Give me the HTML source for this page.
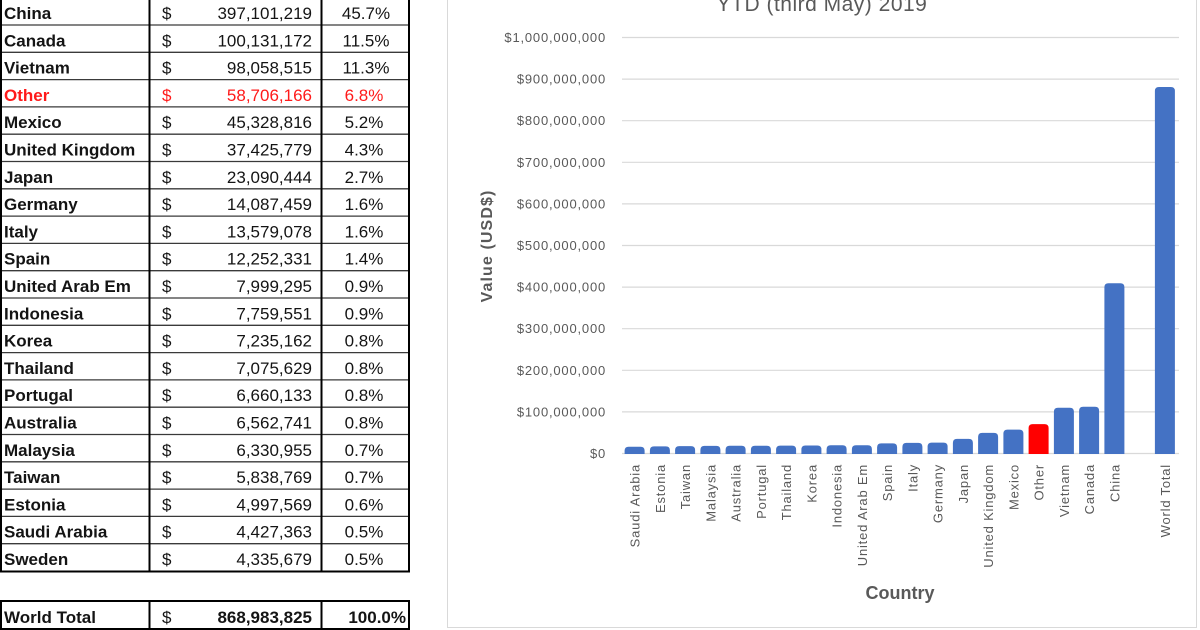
<!DOCTYPE html>
<html><head><meta charset="utf-8"><style>
html,body{margin:0;padding:0;background:#fff;}
svg{display:block;}
</style></head><body>
<svg width="1200" height="630" viewBox="0 0 1200 630" xmlns="http://www.w3.org/2000/svg">
<rect width="1200" height="630" fill="#fff"/>
<!-- TABLE -->
<g stroke="#3a3a3a" stroke-width="1.3">
<line x1="1" x2="409" y1="25" y2="25"/><line x1="1" x2="409" y1="52.3" y2="52.3"/><line x1="1" x2="409" y1="79.6" y2="79.6"/><line x1="1" x2="409" y1="106.9" y2="106.9"/><line x1="1" x2="409" y1="134.2" y2="134.2"/><line x1="1" x2="409" y1="161.5" y2="161.5"/><line x1="1" x2="409" y1="188.8" y2="188.8"/><line x1="1" x2="409" y1="216.1" y2="216.1"/><line x1="1" x2="409" y1="243.4" y2="243.4"/><line x1="1" x2="409" y1="270.7" y2="270.7"/><line x1="1" x2="409" y1="298" y2="298"/><line x1="1" x2="409" y1="325.3" y2="325.3"/><line x1="1" x2="409" y1="352.6" y2="352.6"/><line x1="1" x2="409" y1="379.9" y2="379.9"/><line x1="1" x2="409" y1="407.2" y2="407.2"/><line x1="1" x2="409" y1="434.5" y2="434.5"/><line x1="1" x2="409" y1="461.8" y2="461.8"/><line x1="1" x2="409" y1="489.1" y2="489.1"/><line x1="1" x2="409" y1="516.4" y2="516.4"/><line x1="1" x2="409" y1="543.7" y2="543.7"/>
</g>
<g stroke="#000" stroke-width="2" fill="none">
<line x1="1" x2="1" y1="-2" y2="572"/><line x1="149.5" x2="149.5" y1="-2" y2="572"/><line x1="321.5" x2="321.5" y1="-2" y2="572"/><line x1="409" x2="409" y1="-2" y2="572"/>
<line x1="0" x2="410" y1="571.5" y2="571.5"/>
<rect x="1" y="601" width="408" height="28"/>
<line x1="149.5" x2="149.5" y1="601" y2="629"/><line x1="321.5" x2="321.5" y1="601" y2="629"/>
</g>
<g font-family="Liberation Sans, sans-serif" font-size="17" fill="#141414">
<g font-weight="bold">
<text x="4" y="19">China</text><text x="4" y="46.3">Canada</text><text x="4" y="73.6">Vietnam</text><text x="4" y="100.9" fill="#ff1a1a" font-weight="normal" style="font-weight:bold">Other</text><text x="4" y="128.2">Mexico</text><text x="4" y="155.5">United Kingdom</text><text x="4" y="182.8">Japan</text><text x="4" y="210.1">Germany</text><text x="4" y="237.4">Italy</text><text x="4" y="264.7">Spain</text><text x="4" y="292">United Arab Em</text><text x="4" y="319.3">Indonesia</text><text x="4" y="346.6">Korea</text><text x="4" y="373.9">Thailand</text><text x="4" y="401.2">Portugal</text><text x="4" y="428.5">Australia</text><text x="4" y="455.8">Malaysia</text><text x="4" y="483.1">Taiwan</text><text x="4" y="510.4">Estonia</text><text x="4" y="537.7">Saudi Arabia</text><text x="4" y="565">Sweden</text>
<text x="4" y="623">World Total</text>
</g>
<g>
<text x="162" y="19">$</text><text x="162" y="46.3">$</text><text x="162" y="73.6">$</text><text x="162" y="100.9" fill="#ff1a1a">$</text><text x="162" y="128.2">$</text><text x="162" y="155.5">$</text><text x="162" y="182.8">$</text><text x="162" y="210.1">$</text><text x="162" y="237.4">$</text><text x="162" y="264.7">$</text><text x="162" y="292">$</text><text x="162" y="319.3">$</text><text x="162" y="346.6">$</text><text x="162" y="373.9">$</text><text x="162" y="401.2">$</text><text x="162" y="428.5">$</text><text x="162" y="455.8">$</text><text x="162" y="483.1">$</text><text x="162" y="510.4">$</text><text x="162" y="537.7">$</text><text x="162" y="565">$</text>
<text x="162" y="623">$</text>
</g>
<g text-anchor="end">
<text x="312" y="19">397,101,219</text><text x="312" y="46.3">100,131,172</text><text x="312" y="73.6">98,058,515</text><text x="312" y="100.9" fill="#ff1a1a">58,706,166</text><text x="312" y="128.2">45,328,816</text><text x="312" y="155.5">37,425,779</text><text x="312" y="182.8">23,090,444</text><text x="312" y="210.1">14,087,459</text><text x="312" y="237.4">13,579,078</text><text x="312" y="264.7">12,252,331</text><text x="312" y="292">7,999,295</text><text x="312" y="319.3">7,759,551</text><text x="312" y="346.6">7,235,162</text><text x="312" y="373.9">7,075,629</text><text x="312" y="401.2">6,660,133</text><text x="312" y="428.5">6,562,741</text><text x="312" y="455.8">6,330,955</text><text x="312" y="483.1">5,838,769</text><text x="312" y="510.4">4,997,569</text><text x="312" y="537.7">4,427,363</text><text x="312" y="565">4,335,679</text>
<text x="312" y="623" font-weight="bold">868,983,825</text>
<text x="406" y="623" font-weight="bold">100.0%</text>
</g>
<g text-anchor="middle">
<text x="366" y="19">45.7%</text><text x="366" y="46.3">11.5%</text><text x="366" y="73.6">11.3%</text><text x="364" y="100.9" fill="#ff1a1a">6.8%</text><text x="364" y="128.2">5.2%</text><text x="364" y="155.5">4.3%</text><text x="364" y="182.8">2.7%</text><text x="364" y="210.1">1.6%</text><text x="364" y="237.4">1.6%</text><text x="364" y="264.7">1.4%</text><text x="364" y="292">0.9%</text><text x="364" y="319.3">0.9%</text><text x="364" y="346.6">0.8%</text><text x="364" y="373.9">0.8%</text><text x="364" y="401.2">0.8%</text><text x="364" y="428.5">0.8%</text><text x="364" y="455.8">0.7%</text><text x="364" y="483.1">0.7%</text><text x="364" y="510.4">0.6%</text><text x="364" y="537.7">0.5%</text><text x="364" y="565">0.5%</text>
</g>
</g>

<!-- CHART -->
<rect x="447.5" y="-2" width="749" height="629.5" fill="#fff" stroke="#d9d9d9" stroke-width="1"/>
<text x="822" y="11" text-anchor="middle" font-family="Liberation Sans, sans-serif" font-size="21" letter-spacing="0.5" fill="#595959">YTD (third May) 2019</text>
<g stroke="#d9d9d9" stroke-width="1.2">
<line x1="622" x2="1179" y1="453.5" y2="453.5"/><line x1="622" x2="1179" y1="411.9" y2="411.9"/><line x1="622" x2="1179" y1="370.3" y2="370.3"/><line x1="622" x2="1179" y1="328.7" y2="328.7"/><line x1="622" x2="1179" y1="287.1" y2="287.1"/><line x1="622" x2="1179" y1="245.5" y2="245.5"/><line x1="622" x2="1179" y1="203.9" y2="203.9"/><line x1="622" x2="1179" y1="162.3" y2="162.3"/><line x1="622" x2="1179" y1="120.7" y2="120.7"/><line x1="622" x2="1179" y1="79.1" y2="79.1"/><line x1="622" x2="1179" y1="37.5" y2="37.5"/>
</g>
<g font-family="Liberation Sans, sans-serif" font-size="13" letter-spacing="0.8" fill="#595959" text-anchor="end">
<text x="606" y="458">$0</text><text x="606" y="416.4">$100,000,000</text><text x="606" y="374.8">$200,000,000</text><text x="606" y="333.2">$300,000,000</text><text x="606" y="291.6">$400,000,000</text><text x="606" y="250">$500,000,000</text><text x="606" y="208.4">$600,000,000</text><text x="606" y="166.8">$700,000,000</text><text x="606" y="125.2">$800,000,000</text><text x="606" y="83.6">$900,000,000</text><text x="606" y="42">$1,000,000,000</text>
</g>
<g fill="#4472c4">
<path d="M624.6,454V450.7Q624.6,446.7 628.6,446.7H640.6Q644.6,446.7 644.6,450.7V454Z"/>
<path d="M649.9,454V450.4Q649.9,446.4 653.9,446.4H665.9Q669.9,446.4 669.9,450.4V454Z"/>
<path d="M675.1,454V450.1Q675.1,446.1 679.1,446.1H691.1Q695.1,446.1 695.1,450.1V454Z"/>
<path d="M700.4,454V449.9Q700.4,445.9 704.4,445.9H716.4Q720.4,445.9 720.4,449.9V454Z"/>
<path d="M725.6,454V449.8Q725.6,445.8 729.6,445.8H741.6Q745.6,445.8 745.6,449.8V454Z"/>
<path d="M750.9,454V449.7Q750.9,445.7 754.9,445.7H766.9Q770.9,445.7 770.9,449.7V454Z"/>
<path d="M776.1,454V449.6Q776.1,445.6 780.1,445.6H792.1Q796.1,445.6 796.1,449.6V454Z"/>
<path d="M801.4,454V449.5Q801.4,445.5 805.4,445.5H817.4Q821.4,445.5 821.4,449.5V454Z"/>
<path d="M826.6,454V449.3Q826.6,445.3 830.6,445.3H842.6Q846.6,445.3 846.6,449.3V454Z"/>
<path d="M851.9,454V449.2Q851.9,445.2 855.9,445.2H867.9Q871.9,445.2 871.9,449.2V454Z"/>
<path d="M877.1,454V447.4Q877.1,443.4 881.1,443.4H893.1Q897.1,443.4 897.1,447.4V454Z"/>
<path d="M902.4,454V446.9Q902.4,442.9 906.4,442.9H918.4Q922.4,442.9 922.4,446.9V454Z"/>
<path d="M927.6,454V446.6Q927.6,442.6 931.6,442.6H943.6Q947.6,442.6 947.6,446.6V454Z"/>
<path d="M952.9,454V442.9Q952.9,438.9 956.9,438.9H968.9Q972.9,438.9 972.9,442.9V454Z"/>
<path d="M978.1,454V436.9Q978.1,432.9 982.1,432.9H994.1Q998.1,432.9 998.1,436.9V454Z"/>
<path d="M1003.4,454V433.6Q1003.4,429.6 1007.4,429.6H1019.4Q1023.4,429.6 1023.4,433.6V454Z"/>
<path fill="#ff0000" d="M1028.6,454V428.1Q1028.6,424.1 1032.6,424.1H1044.6Q1048.6,424.1 1048.6,428.1V454Z"/>
<path d="M1053.9,454V411.7Q1053.9,407.7 1057.9,407.7H1069.9Q1073.9,407.7 1073.9,411.7V454Z"/>
<path d="M1079.1,454V410.8Q1079.1,406.8 1083.1,406.8H1095.1Q1099.1,406.8 1099.1,410.8V454Z"/>
<path d="M1104.4,454V287.3Q1104.4,283.3 1108.4,283.3H1120.4Q1124.4,283.3 1124.4,287.3V454Z"/>
<path d="M1154.9,454V91Q1154.9,87 1158.9,87H1170.9Q1174.9,87 1174.9,91V454Z"/>
</g>
<g font-family="Liberation Sans, sans-serif" font-size="13" letter-spacing="0.8" fill="#595959" text-anchor="end">
<text transform="translate(639.6,464) rotate(-90)">Saudi Arabia</text>
<text transform="translate(664.9,464) rotate(-90)">Estonia</text>
<text transform="translate(690.1,464) rotate(-90)">Taiwan</text>
<text transform="translate(715.4,464) rotate(-90)">Malaysia</text>
<text transform="translate(740.6,464) rotate(-90)">Australia</text>
<text transform="translate(765.9,464) rotate(-90)">Portugal</text>
<text transform="translate(791.1,464) rotate(-90)">Thailand</text>
<text transform="translate(816.4,464) rotate(-90)">Korea</text>
<text transform="translate(841.6,464) rotate(-90)">Indonesia</text>
<text transform="translate(866.9,464) rotate(-90)">United Arab Em</text>
<text transform="translate(892.1,464) rotate(-90)">Spain</text>
<text transform="translate(917.4,464) rotate(-90)">Italy</text>
<text transform="translate(942.6,464) rotate(-90)">Germany</text>
<text transform="translate(967.9,464) rotate(-90)">Japan</text>
<text transform="translate(993.1,464) rotate(-90)">United Kingdom</text>
<text transform="translate(1018.4,464) rotate(-90)">Mexico</text>
<text transform="translate(1043.6,464) rotate(-90)">Other</text>
<text transform="translate(1068.9,464) rotate(-90)">Vietnam</text>
<text transform="translate(1094.1,464) rotate(-90)">Canada</text>
<text transform="translate(1119.4,464) rotate(-90)">China</text>
<text transform="translate(1169.9,464) rotate(-90)">World Total</text>
</g>
<text transform="translate(492,246) rotate(-90)" text-anchor="middle" font-family="Liberation Sans, sans-serif" font-size="16" font-weight="bold" letter-spacing="1.1" fill="#595959">Value (USD$)</text>
<text x="900" y="599" text-anchor="middle" font-family="Liberation Sans, sans-serif" font-size="18" font-weight="bold" fill="#595959">Country</text>
</svg>
</body></html>
